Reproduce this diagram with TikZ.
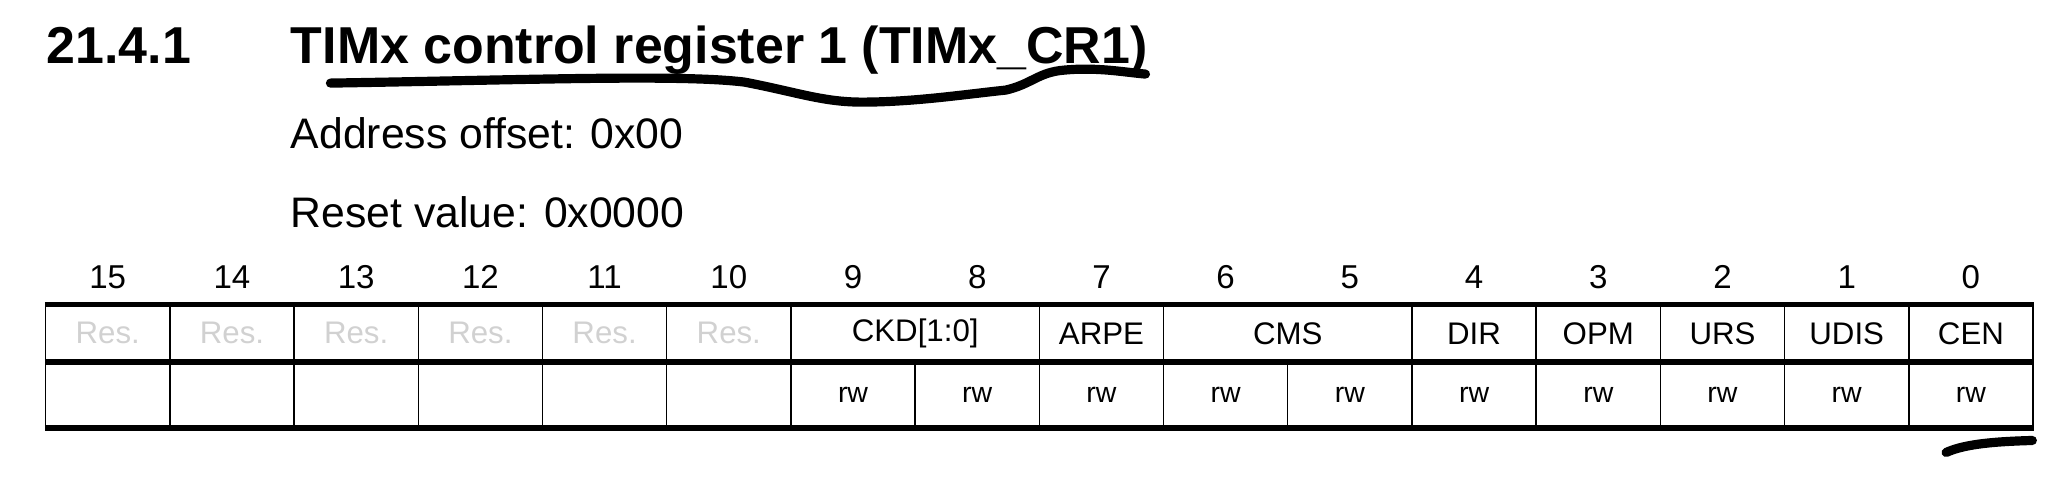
\documentclass[tikz,border=0pt]{standalone}
\usepackage{fontspec}
\setmainfont{Liberation Sans}
\usetikzlibrary{positioning}

\begin{document}
\begin{tikzpicture}[x=0.01cm,y=-0.00766cm,
	cell/.style={draw,line width=.3pt,minimum width=0.951cm,minimum height=0.429cm,inner sep=0pt,font=\fontsize{6.8}{8}\selectfont},
	lowcell/.style={cell,minimum height=0.506cm,font=\fontsize{6.2}{7}\selectfont},
	res/.style={text=black!18},
	scribble/.style={line width=2pt,line cap=round}]
	\useasboundingbox (0,0) rectangle (1568,478);

	% heading
	\node[anchor=base west,inner sep=0pt,font=\bfseries\fontsize{11.3}{13}\selectfont] (num) at (35,63) {21.4.1};
	\node[anchor=base west,inner sep=0pt,font=\bfseries\fontsize{11.3}{13}\selectfont] (title) at (222,63) {TIMx control register 1 (TIMx\_CR1)};
	\node[anchor=base west,inner sep=0pt,font=\fontsize{9.3}{11}\selectfont] (addr) at (222,148) {Address offset: 0x00};
	\node[anchor=base west,inner sep=0pt,font=\fontsize{9.3}{11}\selectfont] (reset) at (222,227) {Reset value: 0x0000};

	% bit numbers and cells
	\foreach \b in {0,...,15}{
		\pgfmathsetmacro\xx{35+95.1*(15-\b)+47.5}
		\node[font=\fontsize{7.2}{8}\selectfont] (n\b) at (\xx,277) {\b};
	}
	\foreach \b in {10,...,15}{
		\pgfmathsetmacro\xx{35+95.1*(15-\b)+47.5}
		\node[cell,res] (t\b) at (\xx,333) {Res.};
		\node[lowcell] (l\b) at (\xx,394) {};
	}
	\node[cell,minimum width=1.902cm] (ckd) at (700.7,333) {CKD[1:0]};
	\node[cell] (arpe) at (843.3,333) {ARPE};
	\node[cell,minimum width=1.902cm] (cms) at (986,333) {CMS};
	\foreach \b/\t in {4/DIR,3/OPM,2/URS,1/UDIS,0/CEN}{
		\pgfmathsetmacro\xx{35+95.1*(15-\b)+47.5}
		\node[cell] (t\b) at (\xx,333) {\t};
	}
	\foreach \b in {0,...,9}{
		\pgfmathsetmacro\xx{35+95.1*(15-\b)+47.5}
		\node[lowcell] (l\b) at (\xx,394) {rw};
	}

	% thick rules
	\draw[line width=1.2pt] (t15.north west) -- (t0.north east);
	\draw[line width=1.2pt] (t15.south west) -- (t0.south east);
	\draw[line width=1.2pt] (l15.south west) -- (l0.south east);

	% pen marks
	\draw[scribble] (253,83) .. controls (400,80) and (520,74) .. (570,82)
		.. controls (610,92) and (630,102) .. (660,102)
		.. controls (700,102) and (740,94) .. (770,90)
		.. controls (790,84) and (795,72) .. (815,70)
		.. controls (840,67) and (860,72) .. (877,74);
	\draw[scribble] (1490,452) .. controls (1505,443) and (1530,441) .. (1556,440);
\end{tikzpicture}
\end{document}
